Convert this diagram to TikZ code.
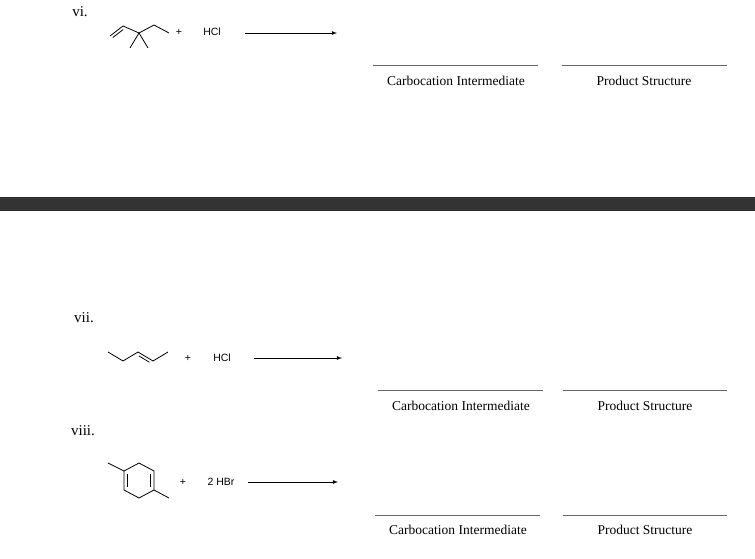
\documentclass[tikz,border=0pt]{standalone}
\usepackage{fontspec}
\usetikzlibrary{calc}
\setmainfont{Liberation Serif}
\newfontfamily\chemfont{Liberation Sans}
\begin{document}
\begin{tikzpicture}[x=1pt,y=-1pt,
  bond/.style={line width=0.8pt,black},
  rxn/.style={line width=0.8pt,-latex},
  blank/.style={line width=1pt,black!60},
  lab/.style={font=\fontsize{13.5}{15}\selectfont,inner sep=0pt},
  num/.style={font=\fontsize{15}{17}\selectfont,inner sep=0pt},
  chem/.style={font=\chemfont\fontsize{10.5}{12}\selectfont,inner sep=0pt}]
\useasboundingbox (0,0) rectangle (755,559);
\fill[black!80] (0,197) rectangle (755,211);
% vi
\node[num] (n6) at (80,12) {vi.};
\coordinate (a1) at (110,36); \coordinate (a2) at (123,26); \coordinate (a3) at (139,33);
\coordinate (a4) at (154,25); \coordinate (a5) at (169,33); \coordinate (a6) at (130,48); \coordinate (a7) at (148,48);
\draw[bond] (a1)--(a2)--(a3)--(a4)--(a5) (a3)--(a6) (a3)--(a7);
\draw[bond] ($(a1)!0.1!(a2)+(1.5,2.5)$)--($(a1)!0.9!(a2)+(1.5,2.5)$);
\node[chem] (p6) at (179,32) {+};
\node[chem] (r6) at (212,32) {HCl};
\coordinate (s6) at (245,33); \coordinate (e6) at (337,33);
\draw[rxn] (s6)--(e6);
\coordinate (l6a) at (373,66); \coordinate (l6b) at (538,66);
\coordinate (l6c) at (562,66); \coordinate (l6d) at (727,66);
\draw[blank] (l6a)--(l6b) (l6c)--(l6d);
\node[lab] (c6) at (456,81) {Carbocation Intermediate};
\node[lab] (q6) at (644,81) {Product Structure};
% vii
\node[num] (n7) at (84,318) {vii.};
\coordinate (b1) at (108,352); \coordinate (b2) at (123,361); \coordinate (b3) at (138,352);
\coordinate (b4) at (153,361); \coordinate (b5) at (168,352);
\draw[bond] (b1)--(b2)--(b3)--(b4)--(b5);
\draw[bond] ($(b3)!0.15!(b4)+(-1.3,2.6)$)--($(b3)!0.85!(b4)+(-1.3,2.6)$);
\node[chem] (p7) at (188,358) {+};
\node[chem] (r7) at (222,358) {HCl};
\coordinate (s7) at (254,358); \coordinate (e7) at (342,358);
\draw[rxn] (s7)--(e7);
\coordinate (l7a) at (378,390); \coordinate (l7b) at (543,390);
\coordinate (l7c) at (563,390); \coordinate (l7d) at (727,390);
\draw[blank] (l7a)--(l7b) (l7c)--(l7d);
\node[lab] (c7) at (461,406) {Carbocation Intermediate};
\node[lab] (q7) at (645,406) {Product Structure};
% viii
\node[num] (n8) at (83,431) {viii.};
\coordinate (m1) at (108,463); \coordinate (r1) at (124,471); \coordinate (r2) at (139,463);
\coordinate (r3) at (154,471); \coordinate (r4) at (154,490); \coordinate (r5) at (139,498);
\coordinate (r6) at (124,490); \coordinate (m2) at (169,498);
\draw[bond] (r1)--(r2)--(r3)--(r4)--(r5)--(r6)--cycle;
\draw[bond] (m1)--(r1) (r4)--(m2);
\draw[bond] (127.5,474)--(127.5,487) (150.5,474)--(150.5,487);
\node[chem] (p8) at (183,482) {+};
\node[chem] (r8) at (221,482) {2 HBr};
\coordinate (s8) at (248,482); \coordinate (e8) at (338,482);
\draw[rxn] (s8)--(e8);
\coordinate (l8a) at (375,515); \coordinate (l8b) at (540,515);
\coordinate (l8c) at (563,515); \coordinate (l8d) at (727,515);
\draw[blank] (l8a)--(l8b) (l8c)--(l8d);
\node[lab] (c8) at (458,530) {Carbocation Intermediate};
\node[lab] (q8) at (645,530) {Product Structure};
\end{tikzpicture}
\end{document}
